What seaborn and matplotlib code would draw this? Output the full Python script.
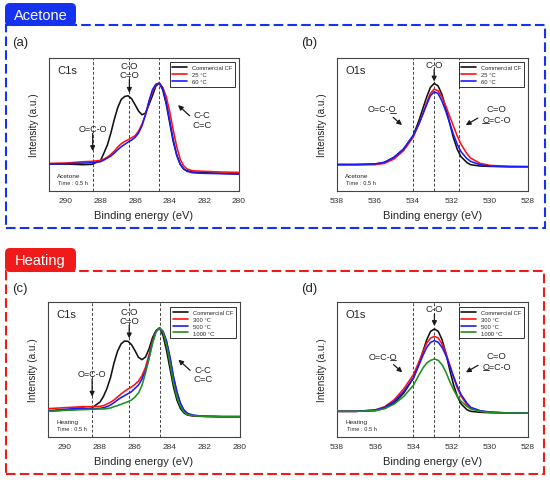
import numpy as np
import pandas as pd
import matplotlib
matplotlib.use("Agg")
import matplotlib.pyplot as plt
import seaborn as sns
from matplotlib.patches import Rectangle, FancyBboxPatch
from matplotlib.lines import Line2D

# ---------------- data (arbitrary units) ----------------
c1s_energy = [291.0, 290.0, 289.0, 288.5, 288.0, 287.8, 287.6, 287.4, 287.2, 287.0,
              286.8, 286.6, 286.4, 286.2, 286.0, 285.8, 285.6, 285.4, 285.2, 285.0,
              284.8, 284.6, 284.4, 284.2, 284.0, 283.8, 283.6, 283.4, 283.2, 283.0,
              282.7, 282.4, 282.0, 281.0, 280.0]
o1s_energy = [538.0, 537.0, 536.0, 535.5, 535.0, 534.5, 534.0, 533.7, 533.5, 533.3,
              533.1, 532.9, 532.7, 532.5, 532.3, 532.1, 531.9, 531.7, 531.5, 531.2,
              531.0, 530.5, 530.0, 529.0, 528.0]

# (a) C1s, acetone
a_commercial = [78, 78, 76, 77, 88, 111, 135, 171, 212, 248,
                272, 281, 283, 274, 256, 237, 226, 231, 256, 283,
                312, 321, 300, 258, 202, 146, 106, 78, 63, 58,
                54, 53, 52, 50, 48]
a_25 = [80, 81, 85, 86, 89, 93, 99, 107, 117, 129,
        139, 146, 151, 157, 163, 177, 198, 226, 263, 296,
        316, 321, 308, 280, 235, 181, 131, 93, 73, 63,
        58, 57, 56, 54, 53]
a_60 = [78, 79, 81, 82, 85, 90, 96, 102, 111, 121,
        130, 137, 144, 150, 158, 171, 193, 226, 267, 301,
        318, 321, 305, 262, 208, 152, 105, 78, 64, 56,
        52, 51, 50, 49, 48]

# (b) O1s, acetone
b_commercial = [76, 76, 78, 83, 98, 123, 163, 208, 243, 278, 308, 320, 313, 288, 248,
                203, 158, 123, 100, 83, 76, 72, 71, 70, 70]
b_25 = [76, 76, 76, 80, 93, 118, 158, 198, 228, 260, 290, 303, 298, 280, 253,
        223, 193, 163, 138, 110, 96, 80, 74, 71, 70]
b_60 = [77, 77, 78, 83, 98, 123, 163, 198, 226, 255, 283, 295, 290, 268, 238,
        203, 168, 138, 115, 95, 86, 76, 72, 70, 70]

# (c) C1s, heating
c_commercial = [70, 74, 77, 79, 98, 115, 139, 171, 215, 250,
                272, 281, 280, 270, 252, 232, 225, 233, 257, 291,
                312, 320, 298, 253, 198, 143, 103, 78, 65, 59,
                56, 55, 55, 54, 54]
c_300 = [78, 81, 84, 84, 85, 87, 92, 97, 104, 113,
         122, 130, 137, 143, 151, 161, 177, 202, 240, 282,
         311, 320, 310, 281, 230, 172, 126, 92, 72, 62,
         57, 56, 55, 54, 54]
c_500 = [72, 76, 80, 77, 79, 81, 84, 89, 96, 104,
         111, 117, 123, 129, 139, 149, 167, 192, 230, 277,
         310, 320, 310, 281, 232, 174, 128, 94, 74, 64,
         59, 57, 55, 54, 54]
c_1000 = [70, 73, 75, 76, 77, 77, 78, 80, 84, 87,
          91, 95, 99, 104, 113, 125, 148, 185, 228, 274,
          308, 320, 308, 270, 215, 155, 112, 84, 68, 60,
          57, 56, 55, 54, 54]

# (d) O1s, heating
d_commercial = [70, 70, 72, 80, 95, 125, 170, 215, 250, 285, 310, 317, 310, 285, 245,
                195, 150, 115, 92, 75, 70, 67, 66, 65, 65]
d_300 = [70, 70, 74, 84, 105, 138, 180, 220, 248, 275, 290, 295, 290, 272, 245,
         210, 172, 140, 115, 90, 80, 70, 67, 65, 65]
d_500 = [70, 70, 74, 82, 100, 130, 170, 210, 238, 262, 277, 282, 277, 262, 238,
         207, 175, 145, 120, 95, 82, 72, 68, 65, 65]
d_1000 = [70, 70, 72, 78, 92, 115, 148, 180, 200, 215, 223, 227, 223, 210, 188,
          160, 135, 115, 100, 85, 77, 70, 67, 65, 65]

acetone_labels = ["Commercial CF", "25 \u00b0C", "60 \u00b0C"]
heating_labels = ["Commercial CF", "300 \u00b0C", "500 \u00b0C", "1000 \u00b0C"]
c1s_ticks = [290, 288, 286, 284, 282, 280]
o1s_ticks = [538, 536, 534, 532, 530, 528]
c1s_lines = [288.45, 286.33, 284.6]
o1s_lines = [534.0, 532.9, 531.6]

series_colors = ["#111111", "#ff1010", "#1a1aff", "#1f8f1f"]
BLUE = "#1432f0"
RED = "#f01a1a"

# ---------------- style ----------------
sns.set_theme(style="white")
plt.rcParams['font.family'] = ['Liberation Sans', 'DejaVu Sans']

W, H = 550, 481
fig = plt.figure(figsize=(5.5, 4.81), dpi=100)


def rect(l, t, r, b):
    return [l / W, 1 - b / H, (r - l) / W, (b - t) / H]


def px(x, y):
    return (x / 100.0, (H - y) / 100.0)


# frames + tabs
for (top, bottom, tab_t, tab_b, col, name) in [(26, 229, 4, 27, BLUE, "Acetone"),
                                               (272, 475, 249, 273, RED, "Heating")]:
    l = 6
    r = 545 if name == "Acetone" else 544
    fig.add_artist(Rectangle(px(l, bottom), (r - l) / 100, (bottom - top) / 100, fill=False,
                             ec=col, lw=1.5, ls=(0, (4.6, 2.0)), transform=fig.dpi_scale_trans))
    fig.add_artist(FancyBboxPatch(px(5, tab_b), 71 / 100, (tab_b - tab_t) / 100,
                                  boxstyle="round,pad=0,rounding_size=0.05", fc=col, ec='none',
                                  transform=fig.dpi_scale_trans, zorder=3))
    fig.text(40.5 / W, 1 - ((tab_t + tab_b) / 2) / H, name, color='white', fontsize=10.5,
             ha='center', va='center', zorder=4)

for lab, x, y in [("(a)", 12, 43), ("(b)", 301.5, 43), ("(c)", 12, 289), ("(d)", 301.5, 289)]:
    fig.text(x / W, 1 - y / H, lab, fontsize=9.5, ha='left', va='center')

underlines = []


def draw_panel(ax, energy, series, labels, xlim, ylim, ticks, vlines, core, cond):
    rows = []
    for lab, vals in zip(labels, series):
        for e, v in zip(energy, vals):
            rows.append((e, v, lab))
    df = pd.DataFrame(rows, columns=["energy", "intensity", "sample"])
    pal = dict(zip(labels, series_colors[:len(labels)]))
    for x in vlines:
        ax.axvline(x, color='#444444', ls=(0, (3, 2)), lw=0.7, zorder=1)
    sns.lineplot(data=df, x="energy", y="intensity", hue="sample", hue_order=labels,
                 palette=pal, estimator=None, lw=1.15, legend=False, ax=ax, zorder=3)
    ax.set_xlim(*xlim)
    ax.set_ylim(*ylim)
    ax.set_xticks(ticks)
    ax.set_yticks([])
    ax.tick_params(axis='x', labelsize=6, pad=4, length=0, labelcolor='#333333')
    for s in ax.spines.values():
        s.set_color('#444444')
        s.set_linewidth(0.8)
    ax.set_xlabel("Binding energy (eV)", fontsize=8, labelpad=4.5)
    ax.set_ylabel("Intensity (a.u.)", fontsize=7.2, labelpad=7)
    handles = [Line2D([], [], color=pal[l], lw=1.2) for l in labels]
    leg = ax.legend(handles, labels, loc='upper right',
                    bbox_to_anchor=(1 - 4 / 190, 1 - 5 / 134), borderaxespad=0,
                    fontsize=4.2, frameon=True, fancybox=False, edgecolor='#111111',
                    framealpha=1, handlelength=2.5, handletextpad=0.8, labelspacing=0.3,
                    borderpad=0.5)
    leg.get_frame().set_linewidth(0.6)
    ax.text(0.045, 0.91, core, transform=ax.transAxes, fontsize=8, ha='left', va='center')
    ax.text(0.045, 0.115, cond, transform=ax.transAxes, fontsize=4.6, ha='left', va='center')
    ax.text(0.05, 0.06, "Time : 0.5 h", transform=ax.transAxes, fontsize=4.1,
            ha='left', va='center')


def arrow(ax, tail, tip):
    ax.annotate('', xy=tip, xytext=tail,
                arrowprops=dict(arrowstyle='-|>', color='k', lw=0.9, mutation_scale=7,
                                shrinkA=0, shrinkB=0), zorder=5)


def ul_text(ax, x, y, s, which):
    t = ax.text(x, y, s, fontsize=6.5, ha='center', va='center', zorder=5)
    underlines.append((t, which))


ax_a = fig.add_axes(rect(48.5, 58.5, 239, 192))
ax_b = fig.add_axes(rect(336.5, 58.5, 528, 192))
ax_c = fig.add_axes(rect(47.5, 303, 240, 438))
ax_d = fig.add_axes(rect(337, 303, 528, 438))

draw_panel(ax_a, c1s_energy, [a_commercial, a_25, a_60], acetone_labels, (291, 280), (-3, 398),
           c1s_ticks, c1s_lines, "C1s", "Acetone")
draw_panel(ax_b, o1s_energy, [b_commercial, b_25, b_60], acetone_labels, (538, 528), (-3, 398),
           o1s_ticks, o1s_lines, "O1s", "Acetone")
draw_panel(ax_c, c1s_energy, [c_commercial, c_300, c_500, c_1000], heating_labels, (291, 280),
           (-7, 398), c1s_ticks, c1s_lines, "C1s", "Heating")
draw_panel(ax_d, o1s_energy, [d_commercial, d_300, d_500, d_1000], heating_labels, (538, 528),
           (-7, 398), o1s_ticks, o1s_lines, "O1s", "Heating")

# C1s annotations
for ax, dy in [(ax_a, 0), (ax_c, -3)]:
    ax.text(286.33, 373 + dy, "C-O", fontsize=6.8, ha='center', va='center', zorder=5)
    ax.text(286.33, 347 + dy, "C=O", fontsize=6.8, ha='center', va='center', zorder=5)
    arrow(ax, (286.33, 332 + dy), (286.33, 292 + dy))
    ax.text(288.45, 186 + dy, "O=C-O", fontsize=6.5, ha='center', va='center', zorder=5)
    arrow(ax, (288.45, 170 + dy), (288.45, 117 + dy))
    ax.text(282.12, 226 + dy * 10, "C-C", fontsize=6.8, ha='center', va='center', zorder=5)
    ax.text(282.12, 197 + dy * 10, "C=C", fontsize=6.8, ha='center', va='center', zorder=5)
    arrow(ax, (282.85, 223 + dy * 10), (283.52, 255 + dy * 10))

# O1s annotations
for ax, dy in [(ax_b, 0), (ax_d, -8)]:
    ax.text(532.9, 378, "C-O", fontsize=6.8, ha='center', va='center', zorder=5)
    arrow(ax, (532.9, 362), (532.9, 326))
    ul_text(ax, 535.62, 244 + dy, "O=C-O", 'last')
    arrow(ax, (535.04, 218 + dy), (534.58, 195 + dy))
    ax.text(529.65, 246 + dy, "C=O", fontsize=6.8, ha='center', va='center', zorder=5)
    ul_text(ax, 529.65, 213 + dy, "O=C-O", 'first')
    arrow(ax, (530.62, 216 + dy), (531.25, 195 + dy))

# underlines
fig.canvas.draw()
renderer = fig.canvas.get_renderer()
inv = fig.transFigure.inverted()
for t, which in underlines:
    bb = t.get_window_extent(renderer).transformed(inv)
    frac = 0.778 / 3.195
    if which == 'last':
        x0, x1 = bb.x1 - frac * bb.width, bb.x1
    else:
        x0, x1 = bb.x0, bb.x0 + frac * bb.width
    y = bb.y0 + 0.08 * bb.height
    fig.add_artist(Line2D([x0 + 0.0005, x1 - 0.0005], [y, y], color='k', lw=0.6,
                          transform=fig.transFigure))

fig.savefig("out.png", dpi=100)
